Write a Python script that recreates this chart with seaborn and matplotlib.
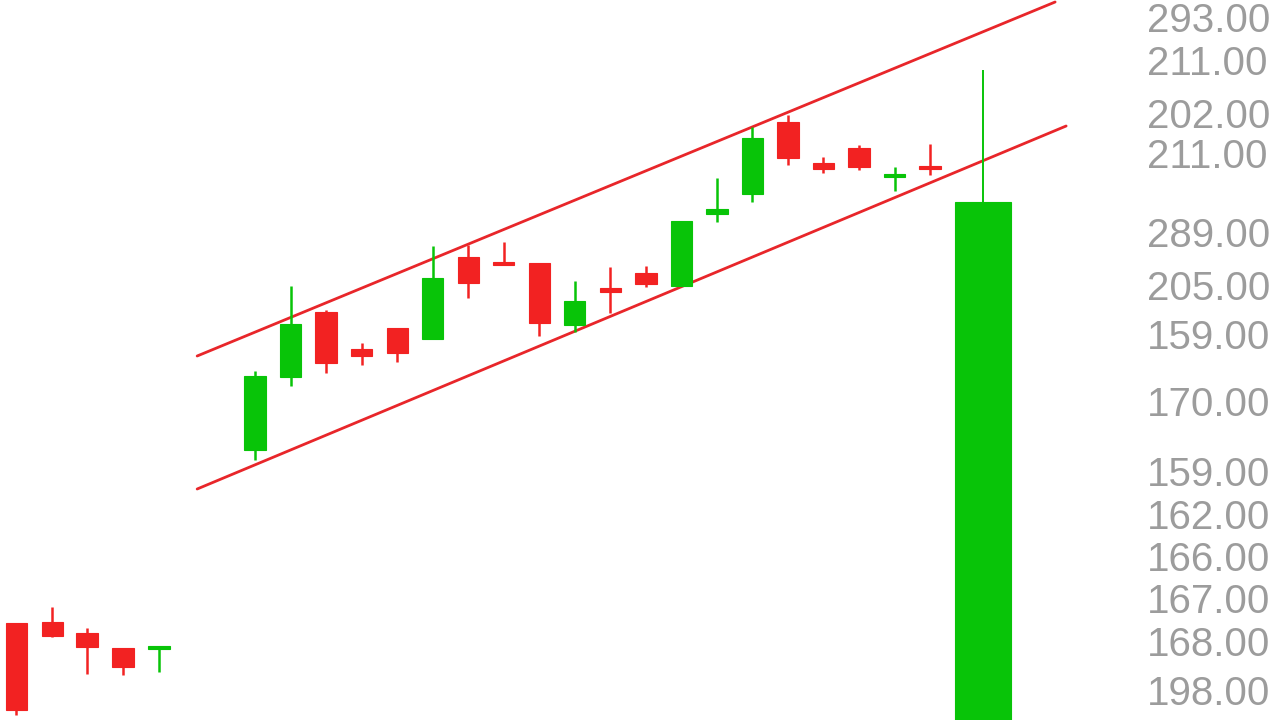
import numpy as np
import pandas as pd
import matplotlib
matplotlib.use("Agg")
import matplotlib.pyplot as plt
import seaborn as sns

# ---- data (session index, OHLC in chart price units) ----
t_sessions = [-6.72, -5.71, -4.73, -3.72, -2.70,
              0, 1, 2, 3, 4, 5, 6, 7, 8, 9, 10, 11, 12, 13, 14, 15, 16, 17, 18, 19,
              20.49]
opens  = [97, 98, 87, 72, 71,
          270, 343, 408, 371, 392, 381, 463, 457, 457, 395, 432, 447, 434, 506, 526, 598, 557, 572, 543, 553,
          -40]
closes = [10, 84, 73, 53, 73,
          344, 396, 357, 364, 367, 442, 437, 455, 397, 419, 428, 436, 499, 511, 582, 562, 551, 553, 545, 551,
          518]
highs  = [97, 113, 92, 72, 73,
          349, 434, 410, 377, 392, 474, 475, 478, 457, 439, 453, 454, 499, 542, 593, 605, 563, 575, 553, 576,
          650]
lows   = [5, 83, 46, 45, 48,
          260, 334, 347, 355, 358, 381, 422, 455, 384, 388, 407, 433, 434, 498, 518, 555, 547, 550, 529, 545,
          -40]

# channel trend lines (session, price)
upper_t = [-1.63, 22.52]
upper_p = [364, 718]
lower_t = [-1.63, 22.83]
lower_p = [231, 594]

# right-hand price labels
tick_prices = [703, 660, 607, 567, 488, 435, 386, 319, 249, 206, 164, 122, 79, 30]
tick_labels = ["293.00", "211.00", "202.00", "211.00", "289.00", "205.00", "159.00",
               "170.00", "159.00", "162.00", "166.00", "167.00", "168.00", "198.00"]

df = pd.DataFrame({"t": t_sessions, "open": opens, "close": closes,
                   "high": highs, "low": lows})

UP = "#08c408"
DOWN = "#f22222"

sns.set_theme(style="white")
plt.rcParams["font.family"] = ["Liberation Sans", "DejaVu Sans"]

fig = plt.figure(figsize=(12.8, 7.2), dpi=100)
ax = fig.add_axes([0, 0, 1, 1])
ax.set_facecolor("white")

# channel lines via seaborn
chan = pd.DataFrame({
    "t": upper_t + lower_t,
    "p": upper_p + lower_p,
    "line": ["upper", "upper", "lower", "lower"],
})
sns.lineplot(data=chan, x="t", y="p", units="line", estimator=None,
             color="#e8262a", lw=2.0, ax=ax, legend=False, zorder=1)

up = df["close"] >= df["open"]
colors = np.where(up, UP, DOWN)
last = len(df) - 1
widths = np.full(len(df), 0.6)
widths[last] = 1.55
wick_w = np.full(len(df), 1.8)
wick_w[last] = 1.4

for i, r in df.iterrows():
    ax.vlines(r["t"], r["low"], r["high"], color=colors[i], lw=wick_w[i], zorder=2)
    lo = min(r["open"], r["close"])
    h = max(abs(r["close"] - r["open"]), 3)
    ax.bar(r["t"], h, bottom=lo, width=widths[i], color=colors[i],
           edgecolor=colors[i], lw=0.8, zorder=3)

ax.set_xlim(-7.18, 28.85)
ax.set_ylim(0, 720)

ax.yaxis.tick_right()
ax.set_yticks(tick_prices)
ax.set_yticklabels(tick_labels)
ax.set_xticks([])
ax.tick_params(axis="y", length=0, pad=-95.5, labelsize=29, labelcolor="#9c9c9c")
for lab in ax.get_yticklabels():
    lab.set_horizontalalignment("left")
for s in ax.spines.values():
    s.set_visible(False)
ax.grid(False)
ax.set_xlabel("")
ax.set_ylabel("")

fig.savefig("out.png", dpi=100, facecolor="white")
